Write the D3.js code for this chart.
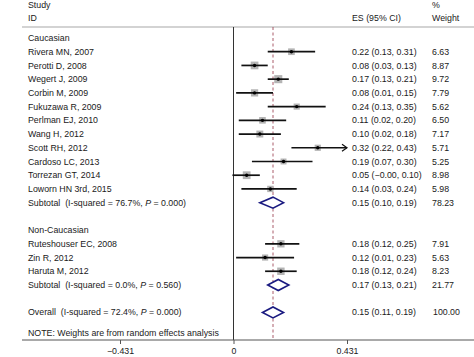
<!DOCTYPE html>
<html><head><meta charset="utf-8">
<script src="https://cdn.jsdelivr.net/npm/d3@7"></script>
<style>
html,body{margin:0;padding:0;background:#fff;}
svg text{font-family:"Liberation Sans",Arial,sans-serif;font-size:8.8px;fill:#1a1a1a;white-space:pre;}
</style></head>
<body>
<svg id="c" width="474" height="357"></svg>
<script>
// ---- data ----
const rowLabels = ["Caucasian","Rivera MN, 2007","Perotti D, 2008","Wegert J, 2009","Corbin M, 2009","Fukuzawa R, 2009","Perlman EJ, 2010","Wang H, 2012","Scott RH, 2012","Cardoso LC, 2013","Torrezan GT, 2014","Loworn HN 3rd, 2015","Subtotal","","Non-Caucasian","Ruteshouser EC, 2008","Zin R, 2012","Haruta M, 2012","Subtotal","","Overall"];
const rowTypes  = ["group","study","study","study","study","study","study","study","study","study","study","study","pooled","blank","group","study","study","study","pooled","blank","pooled"];
const es      = [null,0.22,0.08,0.17,0.08,0.24,0.11,0.10,0.32,0.19,0.05,0.14,0.15,null,null,0.18,0.12,0.18,0.17,null,0.15];
const ciLow   = [null,0.13,0.03,0.13,0.01,0.13,0.02,0.02,0.22,0.07,-0.004,0.03,0.10,null,null,0.12,0.01,0.12,0.13,null,0.11];
const ciHigh  = [null,0.31,0.13,0.21,0.15,0.35,0.20,0.18,0.434,0.30,0.10,0.24,0.19,null,null,0.25,0.23,0.24,0.21,null,0.19];
const weights = [null,6.63,8.87,9.72,7.79,5.62,6.50,7.17,5.71,5.25,8.98,5.98,78.23,null,null,7.91,5.63,8.23,21.77,null,100.00];
const hetero  = {12:["76.7%","0.000"],18:["0.0%","0.560"],20:["72.4%","0.000"]};
const tickVals = [-0.431, 0, 0.431];
const overallES = 0.15;
const note = "NOTE: Weights are from random effects analysis";

// ---- layout ----
const svg = d3.select("#c");
const x = d3.scaleLinear().domain([-0.431, 0.431]).range([120, 347]);
const y = d3.scaleLinear().domain([0, 21.5]).range([38, 333]);
const boxSide = d3.scaleSqrt().domain([0, 10]).range([0, 8.2]);
const topY = 27, axisY = 340, leftX = 22, rightX = 474;
const colES = 352, colW = 432, colID = 28;
const fmt = v => v.toFixed(2).replace("-", "\u2212");

// header
svg.append("text").attr("x", colID).attr("y", 8).text("Study");
svg.append("text").attr("x", colID).attr("y", 21).text("ID");
svg.append("text").attr("x", colES).attr("y", 21).text("ES (95% CI)");
svg.append("text").attr("x", colW).attr("y", 8).text("%");
svg.append("text").attr("x", colW).attr("y", 21).text("Weight");

// top rule
svg.append("line").attr("x1", leftX).attr("x2", rightX).attr("y1", topY).attr("y2", topY)
  .attr("stroke", "#c4c4c4").attr("stroke-width", 1.4);

// null line
svg.append("line").attr("x1", x(0)).attr("x2", x(0)).attr("y1", topY).attr("y2", axisY)
  .attr("stroke", "#333").attr("stroke-width", 1);
// overall dashed line
svg.append("line").attr("x1", x(overallES)).attr("x2", x(overallES)).attr("y1", topY).attr("y2", axisY)
  .attr("stroke", "#a04a5a").attr("stroke-width", 0.9).attr("stroke-dasharray", "3,2.5");

// rows
rowLabels.forEach((lab, i) => {
  const t = rowTypes[i];
  if (t === "blank") return;
  const yy = y(i);
  const txt = svg.append("text").attr("x", colID).attr("y", yy).attr("dy", "0.35em");
  if (t === "pooled") {
    const h = hetero[i];
    txt.append("tspan").text(lab + "  (I-squared = " + h[0] + ", ");
    txt.append("tspan").attr("font-style", "italic").text("P");
    txt.append("tspan").text(" = " + h[1] + ")");
  } else {
    txt.text(lab);
  }
  if (t === "group") return;

  svg.append("text").attr("x", colES).attr("y", yy).attr("dy", "0.35em")
    .text(fmt(es[i]) + " (" + fmt(ciLow[i]) + ", " + fmt(ciHigh[i]) + ")");
  svg.append("text").attr("x", colW + (weights[i] >= 100 ? 1 : 0)).attr("y", yy).attr("dy", "0.35em")
    .text(weights[i].toFixed(2));

  if (t === "study") {
    const [d0, d1] = x.domain();
    const lo = Math.max(ciLow[i], d0), hi = Math.min(ciHigh[i], d1);
    const s = boxSide(weights[i]);
    svg.append("rect").attr("x", x(es[i]) - s/2).attr("y", yy - s/2).attr("width", s).attr("height", s)
      .attr("fill", "#b4b4b4");
    svg.append("line").attr("x1", x(lo)).attr("x2", x(hi)).attr("y1", yy).attr("y2", yy)
      .attr("stroke", "#111").attr("stroke-width", 1.7);
    if (ciHigh[i] > d1) {
      svg.append("path").attr("d", `M${x(d1)-5},${yy-3.5}L${x(d1)},${yy}L${x(d1)-5},${yy+3.5}`)
        .attr("fill", "none").attr("stroke", "#111").attr("stroke-width", 1.2);
    }
    svg.append("circle").attr("cx", x(es[i])).attr("cy", yy).attr("r", 1.7).attr("fill", "#000");
  } else {
    const hh = 5.5;
    svg.append("path")
      .attr("d", `M${x(ciLow[i])},${yy}L${x(es[i])},${yy-hh}L${x(ciHigh[i])},${yy}L${x(es[i])},${yy+hh}Z`)
      .attr("fill", "#fff").attr("stroke", "#1a1a80").attr("stroke-width", 1.6);
  }
});

// note
svg.append("text").attr("x", colID).attr("y", y(21.5)).attr("dy", "0.35em").text(note);

// axis
svg.append("line").attr("x1", leftX).attr("x2", rightX).attr("y1", axisY).attr("y2", axisY)
  .attr("stroke", "#555").attr("stroke-width", 1);
const ax = svg.append("g").attr("transform", `translate(0,${axisY})`)
  .call(d3.axisBottom(x).tickValues(tickVals).tickSize(4).tickPadding(4)
    .tickFormat(v => v === 0 ? "0" : (v < 0 ? "\u22120.431" : "0.431")));
ax.select(".domain").remove();
ax.selectAll(".tick line").attr("stroke", "#555");
ax.selectAll(".tick text").attr("fill", "#1a1a1a").style("font-size", "8.8px")
  .style("font-family", '"Liberation Sans",Arial,sans-serif');
</script>
</body></html>
